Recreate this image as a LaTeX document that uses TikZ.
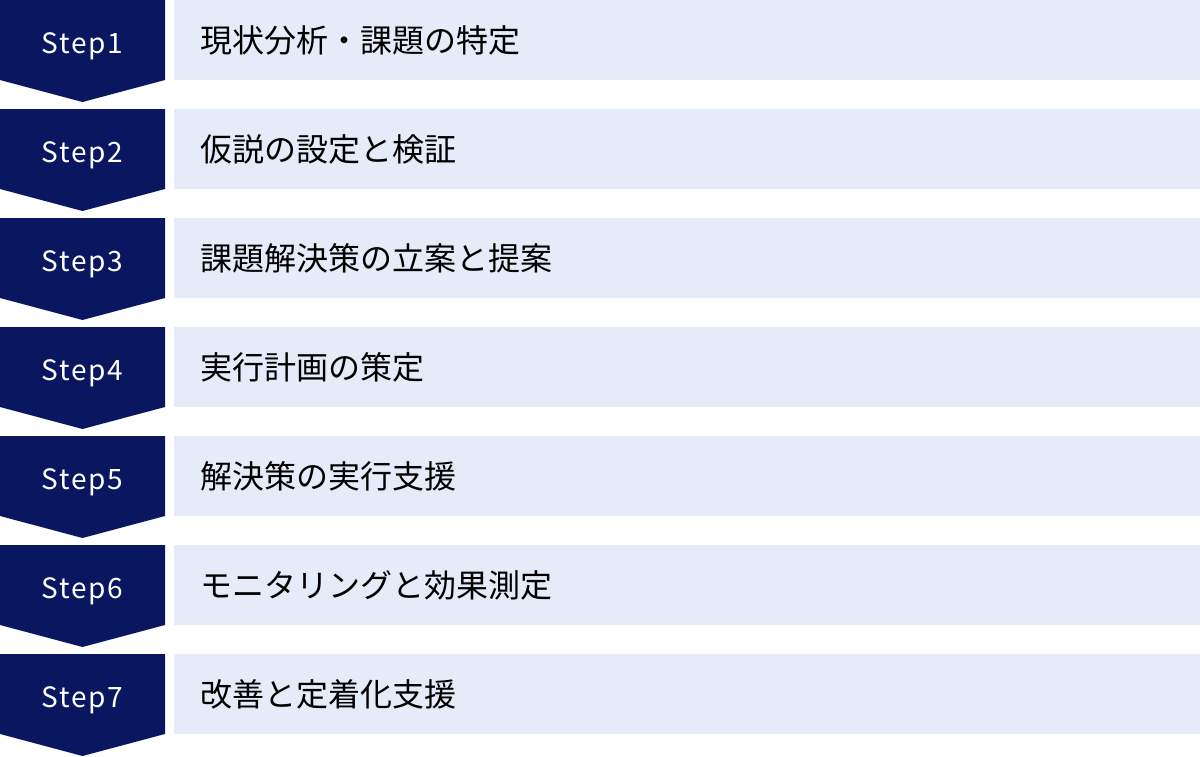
\documentclass[tikz,border=0pt]{standalone}
\usepackage{fontspec}
\setmainfont{Noto Sans CJK JP}
\newfontfamily\stepfont[LetterSpace=6]{Noto Sans CJK JP}
\definecolor{navy}{HTML}{0A1760}
\definecolor{pale}{HTML}{E5EBF8}
\tikzset{
  chev/.style={fill=navy},
  bar/.style={fill=pale},
  steplabel/.style={text=white,font=\stepfont\fontsize{28}{32}\selectfont,inner sep=0pt,anchor=base},
  tasklabel/.style={text=black,font=\fontsize{32}{36}\selectfont,inner sep=0pt,anchor=west}
}
\begin{document}
\begin{tikzpicture}[x=1pt,y=-1pt]
\useasboundingbox (0,0) rectangle (1200,756);
\foreach \i/\t in {1/現状分析・課題の特定,2/仮説の設定と検証,3/課題解決策の立案と提案,4/実行計画の策定,5/解決策の実行支援,6/モニタリングと効果測定,7/改善と定着化支援}{
  \pgfmathsetmacro{\y}{(\i-1)*109}
  \fill[chev] (0,\y) -- (165,\y) -- (165,\y+80) -- (82.5,\y+102) -- (0,\y+80) -- cycle;
  \fill[bar] (174,\y) rectangle (1200,\y+80);
  \node[steplabel] (s\i) at (82.5,\y+53) {Step\i};
  \node[tasklabel] (t\i) at (200,\y+40) {\t};
}
\end{tikzpicture}
\end{document}
